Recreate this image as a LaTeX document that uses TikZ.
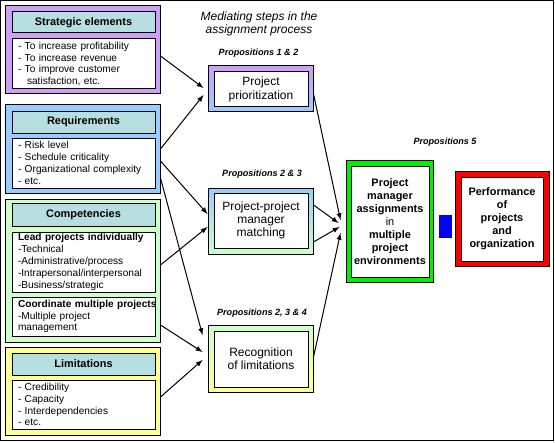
\documentclass[tikz,border=0pt]{standalone}
\usepackage{fontspec}
\setmainfont{Liberation Sans}
\usepackage{xcolor}
\usetikzlibrary{arrows,calc}

\newlength\pxl
\setlength\pxl{0.75pt}

\definecolor{stratpurple}{RGB}{204,160,245}
\definecolor{reqblue}{RGB}{153,204,255}
\definecolor{compgreen}{RGB}{204,255,204}
\definecolor{limyellow}{RGB}{255,255,153}
\definecolor{headteal}{RGB}{183,222,224}
\definecolor{assigngreen}{RGB}{0,240,0}
\definecolor{perfred}{RGB}{255,0,0}
\definecolor{linkblue}{RGB}{0,0,255}

\begin{document}
\begin{tikzpicture}[x=0.75pt,y=-0.75pt]
\tikzset{every node/.style={inner sep=0pt,line width=0.75pt}}
\tikzset{frame/.style={draw,minimum width=155\pxl}}
\tikzset{head/.style={draw,fill=headteal,minimum width=143\pxl,font=\fontsize{8.2}{10}\selectfont\bfseries}}
\tikzset{body/.style={draw,fill=white,text width=131\pxl,inner xsep=6\pxl,align=left,font=\fontsize{7.6}{8.9}\selectfont}}
\tikzset{midframe/.style={draw,minimum width=105\pxl}}
\tikzset{midbox/.style={draw,fill=white,minimum width=94\pxl,align=center,font=\fontsize{9}{10}\selectfont}}
\tikzset{outbox/.style={draw,fill=white,align=center,font=\fontsize{8.2}{9.75}\selectfont\bfseries}}
\tikzset{prop/.style={font=\fontsize{6.8}{8}\selectfont\bfseries\itshape}}
\tikzset{link/.style={-latex,line width=0.75pt}}

\useasboundingbox (0,0) rectangle (555,442);
\draw[line width=0.75pt] (0.5,0.5) rectangle (553.5,440.5);

% left column
\node[frame,fill=stratpurple,minimum height=88\pxl] (strat) at (82.5,50) {};
\node[head,minimum height=21\pxl] (stratHead) at (83.5,22.5) {Strategic elements};
\node[body,minimum height=50\pxl] (stratBody) at (83.5,64) {- To increase profitability\\- To increase revenue\\- To improve customer\\\hspace*{9\pxl}satisfaction, etc.};

\node[frame,fill=reqblue,minimum height=88\pxl] (req) at (82.5,149) {};
\node[head,minimum height=22\pxl] (reqHead) at (83.5,122) {Requirements};
\node[body,minimum height=50\pxl] (reqBody) at (83.5,163) {- Risk level\\- Schedule criticality\\- Organizational complexity\\- etc.};

\node[frame,fill=compgreen,minimum height=143\pxl] (comp) at (82.5,270.5) {};
\node[head,minimum height=23\pxl] (compHead) at (83.5,214.5) {Competencies};
\node[body,minimum height=60\pxl] (compLead) at (83.5,262) {\textbf{Lead projects individually}\\-Technical\\-Administrative/process\\-Intrapersonal/interpersonal\\-Business/strategic};
\node[body,minimum height=39\pxl] (compCoord) at (83.5,316.5) {\mbox{\textbf{Coordinate multiple projects}}\\-Multiple project\\management};

\node[frame,fill=limyellow,minimum height=88\pxl] (lim) at (82.5,391) {};
\node[head,minimum height=22\pxl] (limHead) at (83.5,364) {Limitations};
\node[body,minimum height=49\pxl] (limBody) at (83.5,404.5) {- Credibility\\- Capacity\\- Interdependencies\\- etc.};

% mediating steps
\node[font=\fontsize{9}{9.75}\selectfont\itshape,align=center] (mediate) at (259,23.5) {Mediating steps in the\\assignment process};
\node[prop] (prop12) at (258.5,53) {Propositions 1 \& 2};
\node[prop] (prop23) at (262,174) {Propositions 2 \& 3};
\node[prop] (prop234) at (262,313) {Propositions 2, 3 \& 4};
\node[prop] (prop5) at (445,142) {Propositions 5};

\node[midframe,top color=stratpurple,bottom color=reqblue,minimum height=45\pxl] (prio) at (260.5,88.5) {};
\node[midbox,minimum height=35\pxl] (prioBox) at (261,89.5) {Project\\prioritization};
\node[midframe,top color=reqblue,bottom color=compgreen,minimum height=66\pxl] (match) at (260.5,221) {};
\node[midbox,minimum height=55\pxl] (matchBox) at (261,220.5) {Project-project\\manager\\matching};
\node[midframe,top color=compgreen,bottom color=limyellow,minimum height=67\pxl] (recog) at (260.5,358.5) {};
\node[midbox,minimum height=56\pxl] (recogBox) at (261,359) {Recognition\\of limitations};

% outcome
\node[draw,fill=assigngreen,minimum width=87\pxl,minimum height=122\pxl] (assign) at (389.5,221) {};
\node[outbox,minimum width=78\pxl,minimum height=111\pxl] (assignBox) at (390,221.5) {Project\\manager\\assignments\\{\mdseries in}\\multiple\\project\\environments};
\node[fill=linkblue,minimum width=13\pxl,minimum height=23\pxl] (link) at (445.5,226.5) {};
\node[draw,fill=perfred,minimum width=94\pxl,minimum height=95\pxl] (perf) at (502,218.5) {};
\node[outbox,minimum width=82\pxl,minimum height=84\pxl] (perfBox) at (502,219) {Performance\\of\\projects\\and\\organization};

% arrows
\draw[link] ($(strat.east)+(0,6)$) -- ($(prio.west)+(-4,-0.5)$);
\draw[link] (req.east) -- ($(prio.west)+(-4,6.5)$);
\draw[link] ($(req.east)+(0,12)$) -- ($(match.west)+(0,-7)$);
\draw[link] ($(req.east)+(0,29)$) -- ($(recog.west)+(-5,-23.5)$);
\draw[link] ($(comp.east)+(0,-5.5)$) -- ($(match.west)+(0,6)$);
\draw[link] ($(comp.east)+(0,54.5)$) -- ($(recog.west)+(-5,-6.5)$);
\draw[link] ($(lim.east)+(0,6)$) -- ($(recog.west)+(-5,1.5)$);
\draw[link] ($(prio.east)+(0,5.5)$) -- ($(assign.west)+(-5,-1)$);
\draw[link] ($(match.east)+(0,-16)$) -- ($(assign.west)+(-7,2)$);
\draw[link] ($(match.east)+(0,21)$) -- ($(assign.west)+(-6,6)$);
\draw[link] ($(recog.east)+(0,-1.5)$) -- ($(assign.west)+(-5,12)$);

\end{tikzpicture}
\end{document}
